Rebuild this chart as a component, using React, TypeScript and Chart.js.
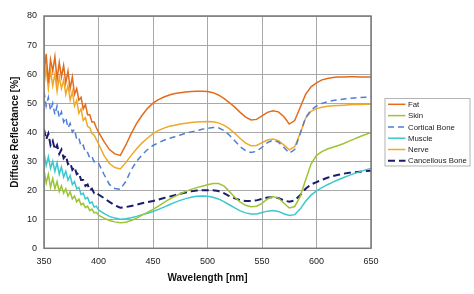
import { useEffect, useRef } from "react";
import { Chart, registerables } from "chart.js";

Chart.register(...registerables);

// Wavelength grid in nm: 2 nm steps through the noisy blue end, 5 nm steps afterwards
const WAVELENGTHS = [
  350, 352, 354, 356, 358, 360, 362, 364, 366, 368, 370, 372, 374, 376, 378,
  380, 382, 384, 386, 388, 390, 392, 394, 396, 398,
  400, 405, 410, 415, 420, 425, 430, 435, 440, 445, 450, 455, 460, 465, 470,
  475, 480, 485, 490, 495, 500, 505, 510, 515, 520, 525, 530, 535, 540, 545,
  550, 555, 560, 565, 570, 575, 580, 585, 590, 595, 600, 605, 610, 615, 620,
  625, 630, 635, 640, 645, 650,
];

// Diffuse reflectance [%] per tissue, one value per wavelength above
const FAT = [
  60, 67, 57, 65, 61, 66, 58, 64, 59, 63, 57, 61, 55, 59, 53,
  55, 51, 52, 48, 49.5, 46, 46, 43.5, 43.5, 41.5,
  40, 36.8, 34, 32.5, 32, 35.5, 39.5, 43, 45.8, 48.2, 50, 51.2, 52.1, 52.8, 53.3,
  53.6, 53.8, 54, 54.1, 54.1, 54, 53.6, 52.8, 51.6, 50.2, 48.6, 46.8, 45.2, 44.2, 44.4,
  45.6, 46.8, 47.4, 47, 45.4, 42.8, 44, 48.5, 53, 55.6, 57, 58, 58.5, 58.8, 59,
  59, 59.1, 59.1, 59, 59, 59,
];

const SKIN = [
  27, 22.5, 25.5, 21, 24, 20.5, 23, 19.5, 21.5, 19, 20.5, 18, 19.5, 17, 18,
  16, 17, 15, 15.5, 14, 14.5, 13, 13.5, 12.2, 12.4,
  11.4, 10.4, 9.6, 9.1, 8.8, 9, 9.6, 10.4, 11.4, 12.4, 13.4, 14.5, 15.7, 16.9, 17.9,
  18.8, 19.6, 20.3, 20.9, 21.4, 21.9, 22.3, 22.3, 21.5, 19.6, 17.6, 15.9, 14.8, 14.3, 14.5,
  15.5, 17, 17.8, 17.3, 15.6, 13.9, 14.4, 17.8, 23.5, 29, 32, 33.3, 34.2, 34.8, 35.4,
  36.1, 36.9, 37.7, 38.5, 39.2, 39.9,
];

const CORTICAL_BONE = [
  54, 49, 52, 47.5, 50, 46, 49, 45, 47, 43.5, 45, 41.5, 43, 40, 41,
  37.5, 38, 35, 35.5, 33, 33, 31, 31.5, 29.8, 30,
  29.3, 25.5, 22, 20.6, 20.3, 23, 27, 30, 32.2, 34, 35.4, 36.4, 37.2, 37.9, 38.4,
  39, 39.6, 40.1, 40.5, 41, 41.3, 41.6, 41.5, 40.6, 39, 37, 35, 33.6, 33, 33.4,
  34.8, 36.4, 37.2, 36.6, 34.8, 32.8, 34, 39.5, 45, 47.6, 49, 49.9, 50.5, 50.9, 51.2,
  51.4, 51.6, 51.8, 51.9, 52, 52.1,
];

const MUSCLE = [
  33, 28.5, 31.5, 27.5, 30, 26.5, 29.5, 25.5, 28, 24.5, 26.5, 23.5, 25, 22, 23,
  20.5, 21, 18.5, 19, 17, 17.5, 15.5, 16, 14.2, 14.5,
  13.2, 12, 11, 10.4, 10, 10.2, 10.5, 11, 11.6, 12.1, 12.7, 13.4, 14.2, 15, 15.8,
  16.5, 17.1, 17.6, 17.9, 18, 17.9, 17.6, 17, 16.1, 15, 13.9, 12.9, 12.2, 11.8, 11.8,
  12.3, 12.8, 13, 12.7, 11.9, 11.3, 11.6, 13.5, 16.2, 18.3, 19.8, 20.9, 21.9, 22.8, 23.6,
  24.4, 25.1, 25.8, 26.4, 27, 27.5,
];

const NERVE = [
  56, 62, 55, 61, 56, 60, 54, 59, 55, 58, 53, 56, 51, 54, 49,
  51, 46.5, 48, 44, 45, 42, 41.5, 39.5, 39, 37.5,
  36, 32, 29.2, 27.8, 27.3, 29.5, 32, 34.3, 36.3, 38, 39.5, 40.6, 41.4, 42, 42.4,
  42.8, 43.1, 43.3, 43.5, 43.6, 43.7, 43.6, 43.2, 42.4, 41.2, 39.6, 37.8, 36.2, 35.3, 35.4,
  36.4, 37.3, 37.6, 37.1, 35.6, 33.9, 35, 39.5, 44.8, 47.2, 48.1, 48.6, 48.9, 49.1, 49.2,
  49.3, 49.4, 49.5, 49.5, 49.6, 49.6,
];

const CANCELLOUS_BONE = [
  41, 37.5, 39.5, 35.5, 37, 34, 35.5, 32.5, 34, 31, 32, 29, 29.5, 27, 28,
  25.5, 26, 23.5, 23.5, 21.5, 22, 20, 20.5, 19, 19.2,
  18.5, 17.3, 16, 14.8, 14, 14.2, 14.6, 15, 15.5, 15.9, 16.3, 16.8, 17.3, 17.8, 18.3,
  18.8, 19.2, 19.6, 19.9, 20, 20, 20, 19.7, 19, 18, 17.2, 16.6, 16.3, 16.3, 16.5,
  17, 17.5, 17.6, 17.3, 16.5, 16, 16.5, 18.3, 20.5, 22, 22.8, 23.6, 24.3, 24.9, 25.3,
  25.7, 26, 26.2, 26.4, 26.6, 26.7,
];

const LABELS = ["Fat", "Skin", "Cortical Bone", "Muscle", "Nerve", "Cancellous Bone"];
const COLORS = ["#E36C1C", "#9CC434", "#4F7ED6", "#3CC8CC", "#F0A828", "#1C1C6C"];
const DASHES: number[][] = [[], [], [6, 4], [], [], [7, 4]];
const WIDTHS = [1.5, 1.5, 1.5, 1.5, 1.5, 2];
const VALUES = [FAT, SKIN, CORTICAL_BONE, MUSCLE, NERVE, CANCELLOUS_BONE];

const X_TICKS = [350, 400, 450, 500, 550, 600, 650];

const FONT = "'Liberation Sans', Arial, sans-serif";

// Dark frame around the whole plot area
const plotFrame = {
  id: "plotFrame",
  afterDatasetsDraw(chart: any) {
    const { ctx, chartArea: a } = chart;
    ctx.save();
    ctx.strokeStyle = "#7a7a7a";
    ctx.lineWidth = 1.5;
    ctx.strokeRect(a.left, a.top, a.right - a.left, a.bottom - a.top);
    ctx.restore();
  },
};

// Boxed legend sitting to the right of the plot
const boxLegend = {
  id: "boxLegend",
  afterDraw(chart: any) {
    const { ctx } = chart;
    const x = 385;
    const y = 98.5;
    const w = 85;
    const h = 67.5;
    ctx.save();
    ctx.fillStyle = "#ffffff";
    ctx.fillRect(x, y, w, h);
    ctx.strokeStyle = "#b4b4b4";
    ctx.lineWidth = 1;
    ctx.strokeRect(x, y, w, h);
    ctx.font = `7.8px ${FONT}`;
    ctx.textBaseline = "middle";
    ctx.textAlign = "left";
    chart.data.datasets.forEach((ds: any, i: number) => {
      const cy = 104.3 + i * 11.3;
      ctx.beginPath();
      ctx.strokeStyle = ds.borderColor;
      ctx.lineWidth = ds.borderWidth;
      ctx.setLineDash(ds.borderDash || []);
      ctx.moveTo(388, cy);
      ctx.lineTo(405.5, cy);
      ctx.stroke();
      ctx.setLineDash([]);
      ctx.fillStyle = "#222222";
      ctx.fillText(ds.label, 408, cy + 0.5);
    });
    ctx.restore();
  },
};

export default function App() {
  const canvasRef = useRef<HTMLCanvasElement | null>(null);

  useEffect(() => {
    const canvas = canvasRef.current;
    if (!canvas) return;

    const datasets = LABELS.map((label, i) => ({
      label,
      data: WAVELENGTHS.map((nm, j) => ({ x: nm, y: VALUES[i][j] })),
      borderColor: COLORS[i],
      backgroundColor: COLORS[i],
      borderDash: DASHES[i],
      borderWidth: WIDTHS[i],
      pointRadius: 0,
      tension: 0,
      fill: false,
    }));

    const chart = new Chart(canvas, {
      type: "line",
      data: { datasets },
      plugins: [plotFrame, boxLegend],
      options: {
        animation: false,
        responsive: false,
        devicePixelRatio: 1,
        layout: { padding: { left: 0, top: 16, right: 103, bottom: 0 } },
        plugins: {
          legend: { display: false },
          tooltip: { enabled: false },
        },
        scales: {
          x: {
            type: "linear",
            min: 350,
            max: 650,
            afterBuildTicks(scale: any) {
              scale.ticks = X_TICKS.map((v) => ({ value: v }));
            },
            afterFit(scale: any) {
              scale.height = 45.7;
            },
            grid: { color: "#a8a8a8", lineWidth: 1, drawTicks: false },
            border: { display: false },
            ticks: {
              padding: 8,
              color: "#222222",
              font: { family: FONT, size: 9 },
              maxRotation: 0,
            },
            title: {
              display: true,
              text: "Wavelength [nm]",
              color: "#111111",
              font: { family: FONT, size: 10, weight: "bold" },
              padding: { top: 0, bottom: 10 },
            },
          },
          y: {
            min: 0,
            max: 80,
            afterFit(scale: any) {
              scale.width = 44;
            },
            grid: { color: "#a8a8a8", lineWidth: 1, drawTicks: false },
            border: { display: false },
            ticks: {
              stepSize: 10,
              padding: 7,
              color: "#222222",
              font: { family: FONT, size: 9 },
            },
            title: {
              display: true,
              text: "Diffuse Reflectance [%]",
              color: "#111111",
              font: { family: FONT, size: 10, weight: "bold" },
              padding: { top: 9, bottom: 0 },
            },
          },
        },
      },
    });

    return () => chart.destroy();
  }, []);

  return (
    <div style={{ position: "fixed", left: 0, top: 0, width: 474, height: 294, background: "#ffffff" }}>
      <canvas ref={canvasRef} width={474} height={294} style={{ display: "block" }} />
    </div>
  );
}
